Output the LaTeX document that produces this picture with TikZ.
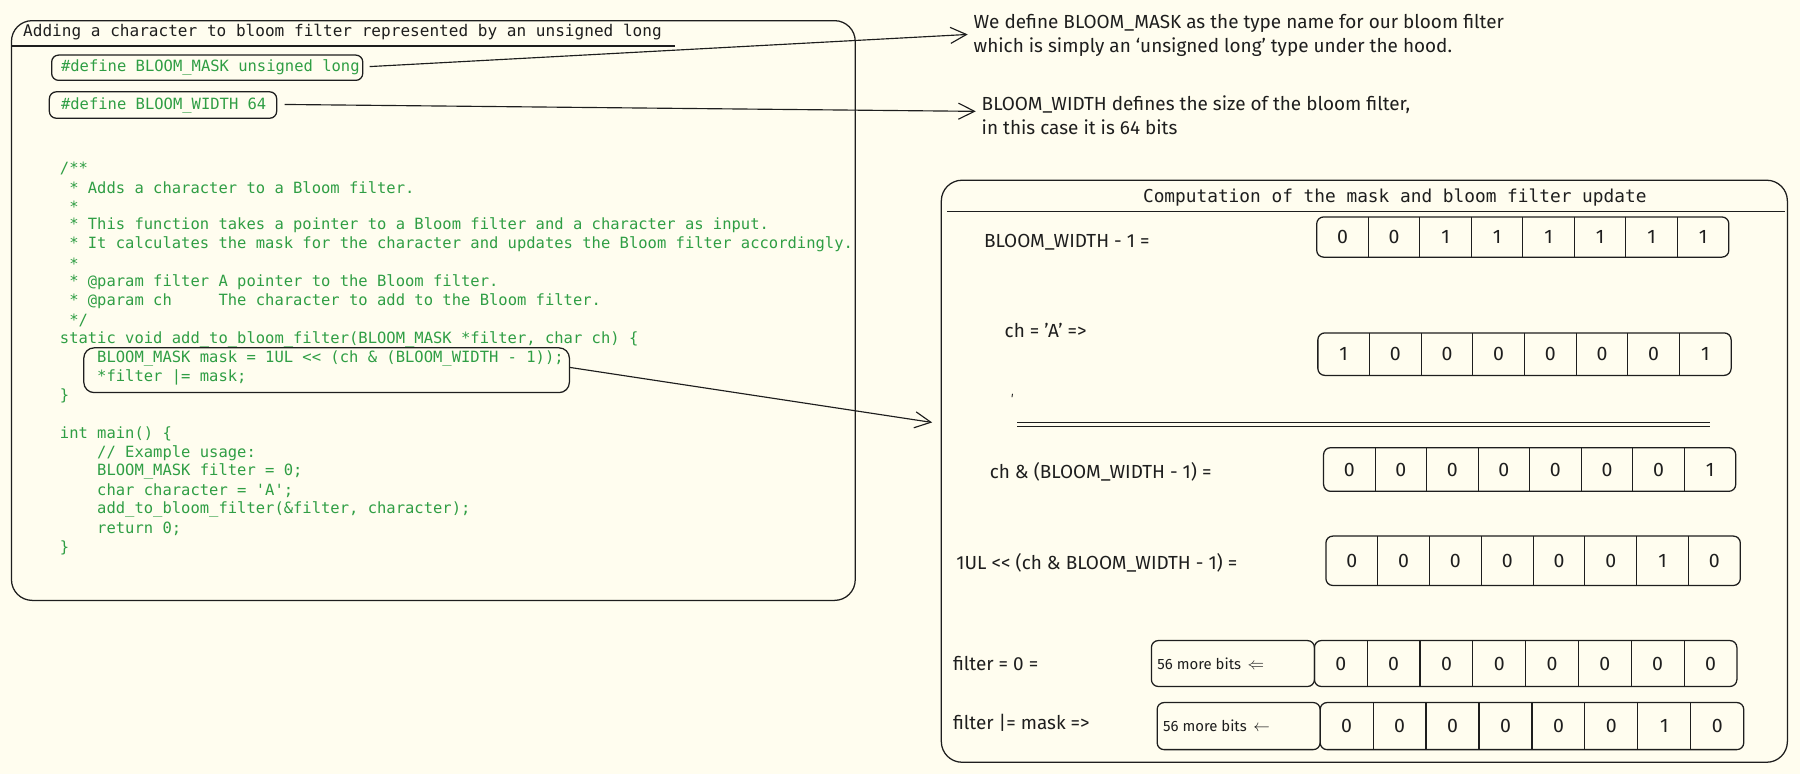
\documentclass[tikz,border=0pt]{standalone}
\usepackage{fontspec}
\setmonofont{DejaVu Sans Mono}
\setsansfont{Fira Sans}
\usetikzlibrary{arrows.meta}
\definecolor{bg}{HTML}{FFFDEF}
\definecolor{cg}{HTML}{2F9E44}
\definecolor{ink}{HTML}{1E1E1E}
\tikzset{
  code/.style={anchor=west,inner sep=0pt,text=cg,font=\ttfamily\fontsize{13.5}{14}\selectfont},
  hand/.style={anchor=west,inner sep=0pt,text=ink,font=\sffamily\fontsize{16.5}{21}\selectfont,align=left},
  frame/.style={draw=ink,line width=1.1pt,rounded corners=18pt},
  sbox/.style={draw=ink,line width=1.1pt,rounded corners=6pt},
  arr/.style={draw=ink,line width=1pt,-{Straight Barb[length=14pt,width=14pt]}},
  bit/.style={font=\sffamily\fontsize{17}{17}\selectfont,text=ink,inner sep=0pt}
}
\newcommand{\bitrow}[6]{% name, x1, y1, x2, y2, bits list
  \draw[sbox] (#2,#3) rectangle (#4,#5);
  \foreach \b [count=\i from 0] in {#6}{
    \pgfmathsetmacro{\cx}{#2+(\i+0.5)*(#4-#2)/8}
    \node[bit] (#1\i) at (\cx,{(#3+#5)/2}) {\b};
    \ifnum\i>0 \draw[ink,line width=1pt] ({#2+\i*(#4-#2)/8},#3) -- ({#2+\i*(#4-#2)/8},#5);\fi
  }
}
\begin{document}
\begin{tikzpicture}[x=1pt,y=-1pt]
\fill[bg] (0,0) rectangle (1568,674);
\useasboundingbox (0,0) rectangle (1568,674);
% left frame
\draw[frame] (10,18) rectangle (745,523);
\node[anchor=west,inner sep=0pt,font=\ttfamily\fontsize{14}{14}\selectfont,text=ink] (t1) at (20,28) {Adding a character to bloom filter represented by an unsigned long};
\draw[ink,line width=1.1pt] (10,40) -- (588,40);
\draw[sbox] (45,48) rectangle (316,70);
\node[code] (d1) at (53,59) {\#define BLOOM\_MASK unsigned long};
\draw[sbox] (43,80) rectangle (241,103);
\node[code] (d2) at (53,92) {\#define BLOOM\_WIDTH 64};
\node[code] (c1) at (52,147) {/**};
\node[code] (c2) at (52,163.5) {\ * Adds a character to a Bloom filter.};
\node[code] (c3) at (52,180) {\ *};
\node[code] (c4) at (52,196.5) {\ * This function takes a pointer to a Bloom filter and a character as input.};
\node[code] (c5) at (52,213) {\ * It calculates the mask for the character and updates the Bloom filter accordingly.};
\node[code] (c6) at (52,229.5) {\ *};
\node[code] (c7) at (52,246) {\ * @param filter A pointer to the Bloom filter.};
\node[code] (c8) at (52,262.5) {\ * @param ch\ \ \ \ \ The character to add to the Bloom filter.};
\node[code] (c9) at (52,279) {\ */};
\node[code] (c10) at (52,295.5) {static void add\_to\_bloom\_filter(BLOOM\_MASK *filter, char ch) \{};
\node[code] (c11) at (52,312) {\ \ \ \ BLOOM\_MASK mask = 1UL << (ch \& (BLOOM\_WIDTH - 1));};
\node[code] (c12) at (52,328.5) {\ \ \ \ *filter |= mask;};
\node[code] (c13) at (52,345) {\}};
\node[code] (c14) at (52,378) {int main() \{};
\node[code] (c15) at (52,394.5) {\ \ \ \ // Example usage:};
\node[code] (c16) at (52,411) {\ \ \ \ BLOOM\_MASK filter = 0;};
\node[code] (c17) at (52,427.5) {\ \ \ \ char character = 'A';};
\node[code] (c18) at (52,444) {\ \ \ \ add\_to\_bloom\_filter(\&filter, character);};
\node[code] (c19) at (52,460.5) {\ \ \ \ return 0;};
\node[code] (c20) at (52,477) {\}};
\draw[sbox,rounded corners=9pt] (73,303) rectangle (496,342);
\coordinate (m) at (496,320);
% annotations
\node[hand] (n1) at (848,31) {We define BLOOM\_MASK as the type name for our bloom filter\\which is simply an `unsigned long' type under the hood.};
\node[hand] (n2) at (855,100) {BLOOM\_WIDTH defines the size of the bloom filter,\\in this case it is 64 bits};
\coordinate (a1) at (322,58);
\coordinate (a2) at (248,91);
\draw[arr] (a1) -- (843,30);
\draw[arr] (a2) -- (850,97);
% right frame
\draw[frame] (820,157) rectangle (1557,664);
\node[inner sep=0pt,font=\ttfamily\fontsize{15.5}{16}\selectfont,text=ink] (t2) at (1215,172) {Computation of the mask and bloom filter update};
\draw[ink,line width=1.1pt] (825,184) -- (1555,184);
\coordinate (rin) at (812,368);
\draw[arr] (m) -- (rin);
\node[hand] (l1) at (857,211) {BLOOM\_WIDTH - 1 =};
\bitrow{r1}{1147}{189}{1506}{224}{0,0,1,1,1,1,1,1}
\node[hand] (l2) at (875,288) {ch = 'A' =>};
\bitrow{r2}{1148}{290}{1508}{327}{1,0,0,0,0,0,0,1}
\draw[ink,line width=0.8pt] (882,343) -- (881.5,346);
\draw[ink,line width=1pt] (886,368) -- (1490,368);
\draw[ink,line width=1pt] (886,371.5) -- (1490,371.5);
\node[hand] (l3) at (862,411) {ch \& (BLOOM\_WIDTH - 1) =};
\bitrow{r3}{1153}{390}{1512}{428}{0,0,0,0,0,0,0,1}
\node[hand] (l4) at (833,490) {1UL {<}{<} (ch \& BLOOM\_WIDTH - 1) =};
\bitrow{r4}{1155}{467}{1516}{510}{0,0,0,0,0,0,1,0}
\node[hand] (l5) at (830,578) {filter = 0 =};
\draw[sbox] (1003,558) rectangle (1145,598);
\node[hand,font=\sffamily\fontsize{13}{14}\selectfont] (mb1) at (1008,578) {56 more bits\, {\Large$\Leftarrow$}};
\bitrow{r5}{1145}{558}{1513}{598}{0,0,0,0,0,0,0,0}
\node[hand] (l6) at (830,630) {filter |= mask =>};
\draw[sbox] (1008,612) rectangle (1150,653);
\node[hand,font=\sffamily\fontsize{13}{14}\selectfont] (mb2) at (1013,632) {56 more bits\, {\Large$\leftarrow$}};
\bitrow{r6}{1150}{612}{1519}{653}{0,0,0,0,0,0,1,0}
\end{tikzpicture}
\end{document}
